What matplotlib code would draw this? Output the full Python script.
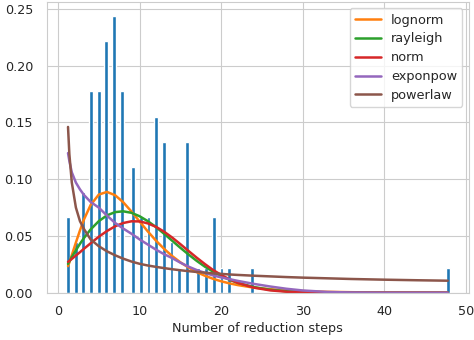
import matplotlib
matplotlib.use('Agg')
import matplotlib.pyplot as plt
import seaborn as sns
import numpy as np

sns.set_style('whitegrid')
plt.rcParams['font.family'] = ['DejaVu Sans']

# reduction steps and how often each one occurs
steps = [1, 2, 3, 4, 5, 6, 7, 8, 9, 10, 11, 12, 13, 14, 15, 16, 17, 18, 19, 20, 21, 24, 48]
counts = [3, 2, 4, 8, 8, 10, 11, 8, 5, 3, 3, 7, 6, 2, 1, 6, 1, 1, 3, 1, 1, 1, 1]

# fitted pdfs
x_fit = [1.235, 1.4, 1.7, 2.2, 2.7, 3.2, 4, 5, 6, 7, 8, 9, 10, 11, 12, 13, 14, 15, 16,
         17, 18, 19, 20, 21, 22, 24, 26, 28, 30, 33, 36, 40, 44, 47.765]
lognorm = [0.0234, 0.0267, 0.0331, 0.0442, 0.0549, 0.0647, 0.0772, 0.0864, 0.0888, 0.0859,
           0.0797, 0.0716, 0.0628, 0.0541, 0.0460, 0.0387, 0.0323, 0.0268, 0.0222, 0.0182,
           0.0150, 0.0123, 0.0101, 0.0083, 0.0068, 0.0045, 0.0031, 0.0021, 0.0014, 0.0008,
           0.00046, 0.00022, 0.00011, 0.00006]
rayleigh = [0.0254, 0.0275, 0.0314, 0.0374, 0.0431, 0.0483, 0.0557, 0.0630, 0.0681, 0.0710,
            0.0717, 0.0704, 0.0674, 0.0631, 0.0579, 0.0520, 0.0458, 0.0396, 0.0337, 0.0281,
            0.0230, 0.0186, 0.0147, 0.0115, 0.0088, 0.0050, 0.0026, 0.0013, 0.0006, 0.00017,
            0.00004, 0.0, 0.0, 0.0]
norm = [0.0272, 0.0281, 0.0298, 0.0328, 0.0357, 0.0388, 0.0435, 0.0493, 0.0543, 0.0585,
        0.0614, 0.0629, 0.0628, 0.0611, 0.0581, 0.0538, 0.0486, 0.0428, 0.0368, 0.0309,
        0.0253, 0.0201, 0.0157, 0.0119, 0.0088, 0.0045, 0.0021, 0.0009, 0.0003, 0.00006,
        0.00001, 0.0, 0.0, 0.0]
exponpow = [0.123, 0.116, 0.106, 0.097, 0.091, 0.086, 0.080, 0.075, 0.068, 0.0615,
            0.0565, 0.052, 0.047, 0.0425, 0.038, 0.034, 0.0305, 0.0265, 0.023, 0.020,
            0.0175, 0.0153, 0.0135, 0.012, 0.0105, 0.0078, 0.0055, 0.0035, 0.002, 0.0007,
            0.0002, 0.00003, 0.0, 0.0]
powerlaw = [0.146, 0.122, 0.097, 0.075, 0.063, 0.056, 0.047, 0.041, 0.0365, 0.033,
            0.030, 0.0275, 0.0255, 0.024, 0.0228, 0.0217, 0.0207, 0.0198, 0.019, 0.0183,
            0.0177, 0.0171, 0.0166, 0.0161, 0.0157, 0.0150, 0.0144, 0.0138, 0.0133, 0.0127,
            0.0121, 0.0115, 0.0110, 0.0106]

fig = plt.figure(figsize=(4.74, 3.40), dpi=100)
ax = fig.add_subplot(111)
fig.subplots_adjust(left=0.099, right=0.989, bottom=0.139, top=0.994)

ax.hist(steps, bins=100, weights=counts, density=True, color='#1f77b4')

fits = [('lognorm', lognorm, '#ff7f0e'), ('rayleigh', rayleigh, '#2ca02c'),
        ('norm', norm, '#d62728'), ('exponpow', exponpow, '#9467bd'),
        ('powerlaw', powerlaw, '#8c564b')]
for name, ys, c in fits:
    ax.plot(x_fit, ys, color=c, lw=1.8, label=name)

ax.set_xticks([0, 10, 20, 30, 40, 50])
ax.set_yticks([0.0, 0.05, 0.10, 0.15, 0.20, 0.25])
ax.tick_params(axis='x', labelsize=9.2, pad=5.5)
ax.tick_params(axis='y', labelsize=9.2, pad=6.5)
ax.set_xlabel('Number of reduction steps', fontsize=9.2, labelpad=3)
ax.legend(loc='upper right', fontsize=9.3, labelspacing=0.45)

plt.savefig('out.png', dpi=100)
plt.close()
